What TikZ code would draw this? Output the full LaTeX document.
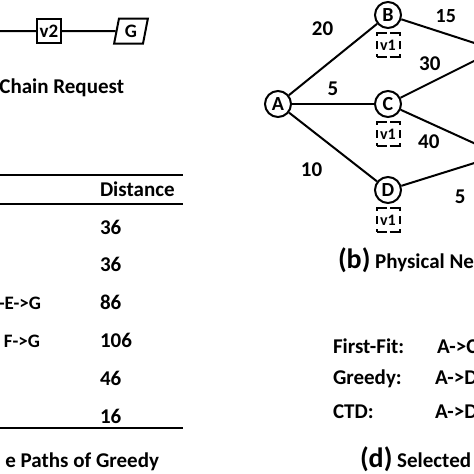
\documentclass[tikz,border=0pt]{standalone}
\usepackage{fontspec}
\setmainfont{Carlito}
\usetikzlibrary{positioning,shapes.geometric}

\newcommand{\fsz}[1]{\fontsize{#1}{#1}\selectfont\bfseries}

\begin{document}
\begin{tikzpicture}[x=1pt,y=-1pt,line width=2pt,font=\fsz{21},
    pn/.style={circle,draw,minimum size=26pt,inner sep=0pt,font=\fsz{20}},
    vnf/.style={draw,minimum width=23pt,minimum height=24pt,inner sep=0pt,font=\fsz{16},
                dash pattern=on 13pt off 3pt on 13pt off 5pt on 8pt off 5pt,dash phase=3pt},
    vbox/.style={draw,minimum size=24pt,inner sep=0pt,font=\fsz{19}},
    egress/.style={trapezium,draw,trapezium left angle=79,trapezium right angle=101,
                   minimum height=25pt,minimum width=32pt,inner sep=0pt,font=\fsz{19}},
    wt/.style={inner sep=0pt},
    txt/.style={inner sep=0pt},
    node distance=3pt]
  \useasboundingbox (0,0) rectangle (474,474);
  \fill[white] (0,0) rectangle (474,474);
  \clip (0,0) rectangle (474,474);

  % (a) chain request
  \coordinate (src) at (-10,31);
  \node[vbox] (v2) at (49,31) {v2};
  \node[egress] (G) at (131,31) {G};
  \draw (src) -- (v2) -- (G);
  \node[txt,anchor=base east] (capa) at (125,93) {Chain Request};

  % (c) candidate paths
  \draw (-5,175) -- (183,175);
  \draw (-5,204) -- (183,204);
  \draw (-5,428) -- (183,428);
  \node[txt,anchor=base west] (hd) at (99,196) {Distance};
  \foreach \d [count=\i] in {36,36,86,106,46,16}
    \node[txt,anchor=base west] (d\i) at (99,{234+37.8*(\i-1)}) {\d};
  \node[txt,anchor=base east,font=\fsz{19}] (p3) at (42,309) {-E->G};
  \node[txt,anchor=base east,font=\fsz{19}] (p4) at (41,347) {F->G};
  \node[txt,anchor=base east] (capc) at (160,467) {e Paths of Greedy};

  % (b) physical network
  \node[pn] (A) at (278,104) {A};
  \node[pn,right=82pt of A] (C) {C};
  \node[pn,above=61pt of C] (B) {B};
  \node[pn,below=58pt of C] (D) {D};
  \coordinate (E) at (496,50);
  \coordinate (F) at (500,155);
  \foreach \n in {B,C,D}
    \node[vnf,below=of \n] (v1\n) {v1};

  \draw (A) -- node[wt,pos=.65,above left=12pt and 12pt] {20} (B);
  \draw (A) -- node[wt,above=7pt] {5} (C);
  \draw (A) -- node[wt,pos=.53,below left=12.5pt and 12.5pt] {10} (D);
  \draw (B) -- node[wt,pos=.47,above=10pt,font=\fsz{20}] {15} (E);
  \draw (C) -- node[wt,pos=.47,above left=4pt and 4pt] {30} (E);
  \draw (C) -- node[wt,pos=.44,below left=4pt and 4pt] {40} (F);
  \draw (D) -- node[wt,pos=.38,below right=15pt and 15pt] {5} (F);

  % (b), (d) captions
  \node[txt,anchor=base west] (capb) at (337,268) {{\fsz{28}(b)} Physical Ne};
  \node[txt,anchor=base west] (alg1) at (332,353) {First-Fit:};
  \node[txt,anchor=base west] (alg2) at (332,384) {Greedy:};
  \node[txt,anchor=base west] (alg3) at (332,418) {CTD:};
  \node[txt,anchor=base west] (sel1) at (436,353) {A->C};
  \node[txt,anchor=base west] (sel2) at (434,384) {A->D};
  \node[txt,anchor=base west] (sel3) at (434,418) {A->D};
  \node[txt,anchor=base west] (capd) at (359,467) {{\fsz{28}(d)} Selected};
\end{tikzpicture}
\end{document}
